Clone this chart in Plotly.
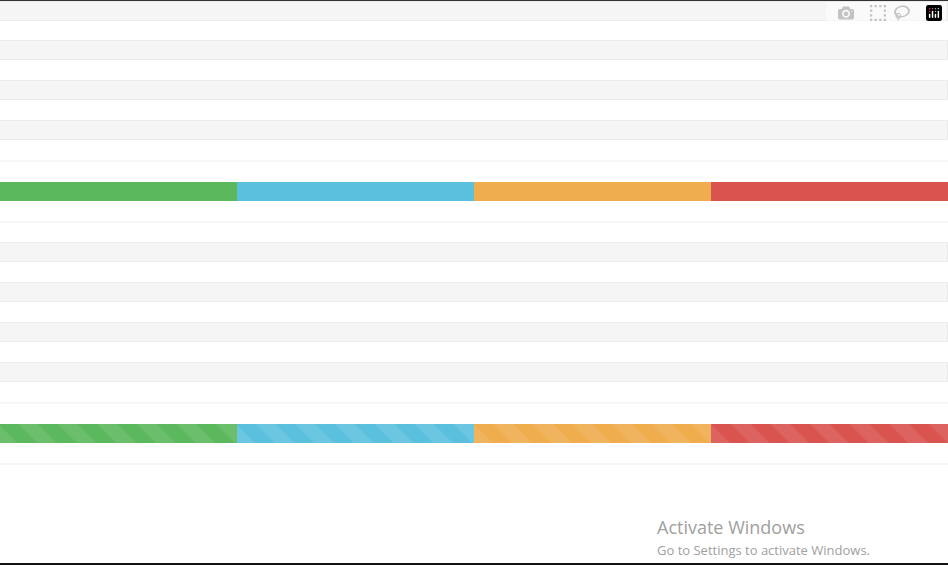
import plotly.graph_objects as go

# data
segment_names = ["success", "info", "warning", "danger"]
segment_values = [25, 25, 25, 25]
segment_colors = ["#5cb85c", "#5bc0de", "#f0ad4e", "#d9534f"]
track_value = 100

# layout positions (pixel rows)
track_rows_a = [11, 50.5, 90.5, 130.5]
stack_row_a = 191.5
track_rows_b = [252.5, 292.5, 332.5, 372.5]
stack_row_b = 433.5
hr_rows = [161, 222, 403, 464]
bar_h = 19

fig = go.Figure()
for rows in (track_rows_a, track_rows_b):
    fig.add_trace(go.Bar(
        x=[track_value] * len(rows), y=rows, orientation="h", width=bar_h,
        marker=dict(color="#f5f5f5", line=dict(color="#ebebeb", width=1)),
        hoverinfo="skip", showlegend=False))

for row, striped in ((stack_row_a, False), (stack_row_b, True)):
    base = 0
    for name, v, c in zip(segment_names, segment_values, segment_colors):
        marker = dict(color=c, line=dict(width=0))
        if striped:
            marker["pattern"] = dict(shape="\\", fgcolor="rgba(255,255,255,0.18)",
                                     bgcolor=c, size=28, solidity=0.5, fillmode="overlay")
        fig.add_trace(go.Bar(x=[v], y=[row], base=[base], orientation="h",
                             width=bar_h, marker=marker, name=name, showlegend=False))
        base += v

for r in hr_rows:
    fig.add_shape(type="line", x0=0, x1=1, xref="paper", y0=r, y1=r,
                  line=dict(color="#eeeeee", width=1))
fig.add_shape(type="line", x0=0, x1=1, xref="paper", y0=0.5, y1=0.5, line=dict(color="#333", width=1))
fig.add_shape(type="line", x0=0, x1=1, xref="paper", y0=564, y1=564, line=dict(color="#111", width=2))

fig.add_annotation(x=655/948, y=527, xref="paper", text="Activate Windows", showarrow=False,
                   xanchor="left", yanchor="middle", font=dict(family="Open Sans", size=18, color="#a0a0a0"))
fig.add_annotation(x=655/948, y=550, xref="paper", text="Go to Settings to activate Windows.", showarrow=False,
                   xanchor="left", yanchor="middle", font=dict(family="Open Sans", size=13, color="#a0a0a0"))

fig.update_layout(
    width=948, height=565, margin=dict(l=0, r=0, t=0, b=0),
    paper_bgcolor="white", plot_bgcolor="white", barmode="overlay", bargap=0,
    xaxis=dict(range=[0, 100], visible=False, fixedrange=True),
    yaxis=dict(range=[565, 0], visible=False, fixedrange=True),
)
fig.write_html("out.html", post_script="document.body.style.margin='0';document.body.style.overflow='hidden';")
